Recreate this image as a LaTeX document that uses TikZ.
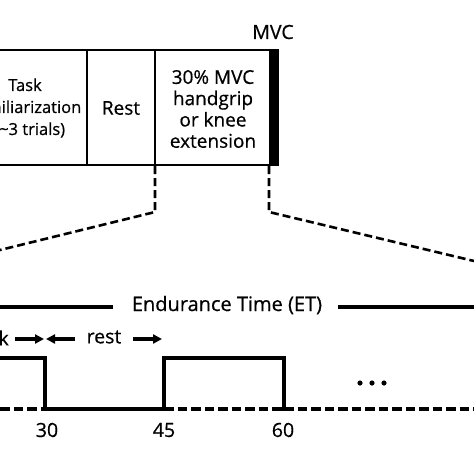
\documentclass[tikz,border=0pt]{standalone}
\usepackage{fontspec}
\setmainfont{Open Sans}[FakeBold=0.6, BoldFont=Open Sans, BoldFeatures={FakeBold=0.6}]
\newfontfamily\medfont{Open Sans}[FakeBold=0.6]
\usetikzlibrary{arrows.meta}
\begin{document}
\begin{tikzpicture}[x=1pt,y=-1pt,
  every node/.style={font=\medfont},
  boxline/.style={line width=2.4pt},
  zoomline/.style={line width=2.6pt, dash pattern=on 8pt off 4pt},
  wave/.style={line width=3.4pt},
  baseline dash/.style={line width=3.2pt, dash pattern=on 9.5pt off 4pt},
  etline/.style={line width=3.8pt},
  arr/.style={line width=3.4pt, -{Triangle[length=9pt,width=9pt]}},
  boxtext/.style={font=\medfont\fontsize{19}{21.3}\selectfont, align=center, inner sep=0pt},
  famtext/.style={font=\medfont\fontsize{16.5}{22}\selectfont, align=center, inner sep=0pt},
  lbl/.style={font=\medfont\fontsize{19.5}{22}\selectfont, inner sep=0pt},
]
\useasboundingbox (0,0) rectangle (474,474);
\clip (0,0) rectangle (474,474);
% top box
\coordinate (bTL) at (-60,50);
\coordinate (bBR) at (278,165);
\draw[boxline] (bTL) rectangle (bBR);
\draw[boxline] (87,50) -- (87,165);
\draw[boxline] (155,50) -- (155,165);
\fill (269,48.8) rectangle (278.5,166.2);
\node[famtext] (fam) at (25,108) {Task\\Familiarization\\(2\textasciitilde3 trials)};
\node[boxtext] (rest1) at (121,108) {Rest};
\node[boxtext] (hg) at (213,109) {30\% MVC\\handgrip\\or knee\\extension};
\node[lbl] (mvc) at (273,32) {MVC};
% zoom lines
\coordinate (zl0) at (155,166);
\coordinate (zl1) at (155,212);
\coordinate (zl2) at (0,250);
\coordinate (zr0) at (269,166);
\coordinate (zr1) at (269,212);
\coordinate (zr2) at (474,261);
\draw[zoomline] (zl0) -- (zl1) -- (zl2);
\draw[zoomline] (zr0) -- (zr1) -- (zr2);
% endurance time
\node[font=\medfont\fontsize{20}{22}\selectfont, inner sep=0pt] (et) at (227,305) {Endurance Time (ET)};
\coordinate (etL) at (0,307);
\coordinate (etR) at (474,307);
\draw[etline] (etL) -- (113,307);
\draw[etline] (338,307) -- (etR);
% task / rest arrows
\node[lbl, anchor=east] (task) at (9,338) {task};
\node[lbl] (rest2) at (104,337) {rest};
\coordinate (a1s) at (15,339); \coordinate (a1e) at (44,339);
\coordinate (a2s) at (75,339); \coordinate (a2e) at (46,339);
\coordinate (a3s) at (133,339); \coordinate (a3e) at (162,339);
\draw[arr] (a1s) -- (a1e);
\draw[arr] (a2s) -- (a2e);
\draw[arr] (a3s) -- (a3e);
% baseline dashed
\draw[baseline dash] (0,409) -- (45,409);
\draw[baseline dash] (164,409) -- (284,409);
\draw[baseline dash] (284,409) -- (474,409);
% square wave
\draw[wave, line join=miter] (-5,358) -- (45,358) -- (45,409) -- (164,409) -- (164,358) -- (284,358) -- (284,410.5);
% tick labels
\node[lbl] (t30) at (47,430) {30};
\node[lbl] (t45) at (164,430) {45};
\node[lbl] (t60) at (283,430) {60};
% dots
\fill (360,383) circle (2.6pt);
\fill (372,383) circle (2.6pt);
\fill (384,383) circle (2.6pt);
\end{tikzpicture}
\end{document}
